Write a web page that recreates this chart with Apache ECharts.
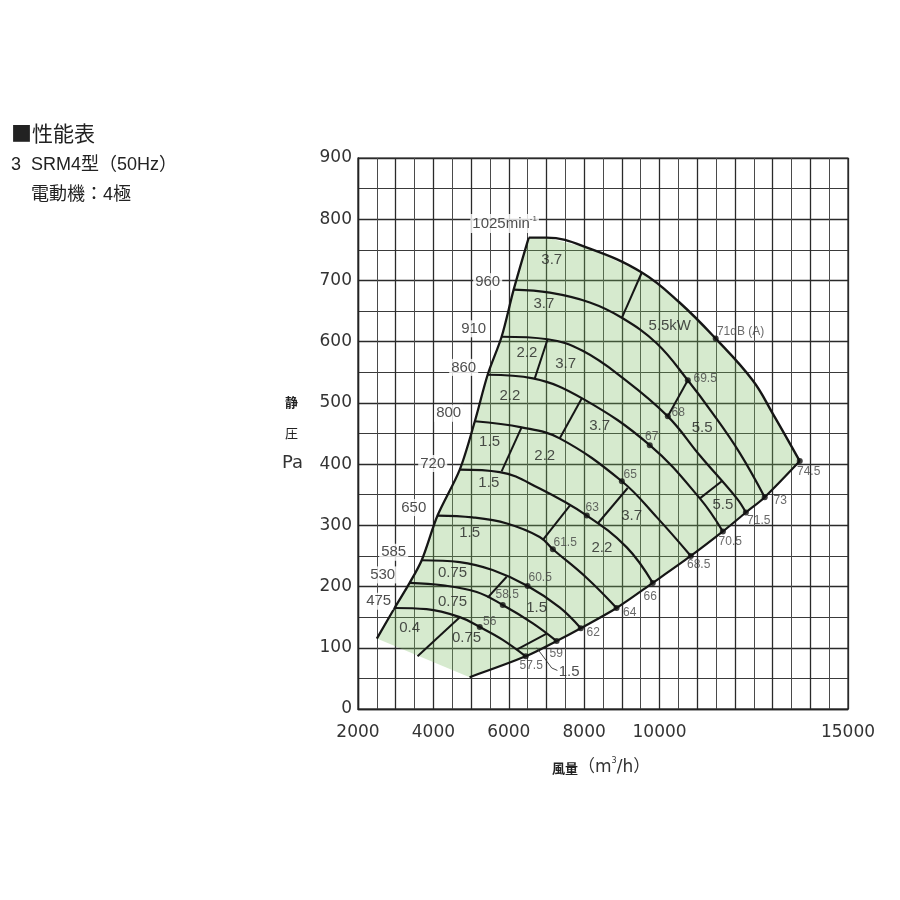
<!DOCTYPE html>
<html><head><meta charset="utf-8">
<script src="https://cdn.jsdelivr.net/npm/echarts@6/dist/echarts.min.js"></script>
<style>html,body{margin:0;padding:0;background:#fff}#c{width:900px;height:900px}</style>
</head><body><div id="c"></div>
<script>
// ---- data ----
const xTickLabels = [2000, 4000, 6000, 8000, 10000, 15000];
const yTickLabels = [0, 100, 200, 300, 400, 500, 600, 700, 800, 900];

const surgeLine = [[2500,115],[2970,165],[3370,206],[3690,243],[4110,316],[4700,391],[5100,470],[5440,546],[5810,608],[6130,685],[6530,770]];
const curve1025 = [[6530,770],[7000,770],[8150,752],[9530,713],[10530,664],[11490,605],[12470,537],[13000,483],[13720,405]];
const curve960 = [[6130,685],[7090,680],[8150,664],[9000,639],[9930,597],[10750,537],[11410,483],[12130,418],[12790,346]];
const curve910 = [[5810,608],[7030,604],[7960,585],[9020,541],[10220,478],[11070,414],[12050,344],[12290,321]];
const curve860 = [[5440,546],[6640,540],[7960,507],[9740,431],[11070,344],[11680,290]];
const curve800 = [[5100,470],[6340,460],[7350,442],[9000,372],[9930,313],[10830,250]];
const curve720 = [[4700,391],[5760,387],[6820,360],[8070,316],[9130,264],[9820,206]];
const curve650 = [[4110,316],[5040,313],[5950,303],[6820,281],[7170,261],[8070,214],[8860,165]];
const curve585 = [[3690,243],[4700,240],[5570,227],[6500,201],[7350,166],[7910,132]];
const curve530 = [[3370,206],[4250,202],[5150,191],[5840,170],[6640,140],[7270,111]];
const curve475 = [[2970,165],[3820,163],[4700,150],[5230,134],[5840,113],[6450,86]];
const boundaryLine = [[4960,52],[6450,86],[7270,111],[7910,132],[8860,165],[9820,206],[10830,250],[11680,290],[12290,321],[12790,346],[13720,405]];

const powerDividers = [
  [[9530,713],[9000,639]],
  [[10750,537],[10220,478]],
  [[7030,604],[6690,540]],
  [[11650,372],[11070,344]],
  [[7935,507],[7350,442]],
  [[6340,460],[5810,388]],
  [[9155,361],[8360,303]],
  [[7620,332],[6900,276]],
  [[5945,216],[5440,182]],
  [[7006,123],[6210,97]],
  [[4700,150],[3580,86]]
];
const leaderLine = [[6740,100],[7140,67],[7290,63]];

const noiseDots = [[11490,605],[10750,537],[10220,478],[9740,431],[9000,372],[8070,316],[7170,261],[6500,201],[5840,170],[5230,134]];
const endDots = [[6450,86],[7270,111],[7910,132],[8860,165],[9820,206],[10830,250],[11680,290],[12290,321],[12790,346],[13720,405]];

const speedLabels = [
  [5890,793,'1025'],[5441,698,'960'],[5069,621,'910'],[4804,558,'860'],[4406,483,'800'],
  [3982,401,'720'],[3478,329,'650'],[2947,256,'585'],[2655,219,'530'],[2549,176,'475']
];
const kwLabels = [
  [7140,734,'3.7'],[10270,626,'5.5kW'],[6930,662,'3.7'],[11130,460,'5.5'],
  [6480,582,'2.2'],[7510,563,'3.7'],[11680,333,'5.5'],[6030,512,'2.2'],[8410,463,'3.7'],
  [5490,437,'1.5'],[6955,414,'2.2'],[9260,316,'3.7'],[5470,369,'1.5'],[8470,264,'2.2'],
  [4960,287,'1.5'],[4510,223,'0.75'],[6740,166,'1.5'],[4510,175,'0.75'],[3370,132,'0.4'],
  [4880,116,'0.75'],[7603,61,'1.5']
];
const dbLabels = [
  [12150,616,'71dB (A)'],[11210,540,'69.5'],[10495,484,'68'],[9792,445,'67'],[9222,382,'65'],
  [8213,329,'63'],[7497,271,'61.5'],[6834,215,'60.5'],[5958,186,'58.5'],[5494,142,'56'],
  [6595,70,'57.5'],[7258,91,'59'],[8240,124,'62'],[9208,158,'64'],[9752,184,'66'],
  [11039,235,'68.5'],[11875,274,'70.5'],[12631,308,'71.5'],[13201,341,'73'],[13957,387,'74.5']
];

// ---- chart ----
const areaOutline = surgeLine.concat(curve1025.slice(1), boundaryLine.slice(0, -1).reverse());
const ink = '#161616';
function curve(data, w) {
  return {type:'line', data, smooth:0.4, symbol:'none', silent:true, z:4,
    lineStyle:{color:ink, width:w || 2.2}};
}
const series = [
  {type:'custom', silent:true, z:1, data:[[2000,0]],
    renderItem:(params, api) => {
      if (params.dataIndex !== 0) return;
      return {type:'polygon', shape:{points:areaOutline.map(p => api.coord(p))},
        style:{fill:'rgba(118,185,92,0.30)', stroke:null}};
    }},
  {type:'line', data:surgeLine, smooth:0.3, symbol:'none', silent:true, z:4, lineStyle:{color:ink, width:2.3}},
  curve(curve1025, 2.4), curve(curve960), curve(curve910), curve(curve860), curve(curve800),
  curve(curve720), curve(curve650), curve(curve585), curve(curve530), curve(curve475),
  {type:'line', data:boundaryLine, smooth:0.3, symbol:'none', silent:true, z:4, lineStyle:{color:ink, width:2.2}}
];
powerDividers.forEach(seg => series.push({type:'line', data:seg, symbol:'none', silent:true, z:4, lineStyle:{color:ink, width:2}}));
series.push({type:'line', data:leaderLine, symbol:'none', silent:true, z:4, lineStyle:{color:'#333', width:0.9}});
series.push({type:'scatter', data:noiseDots.concat(endDots), symbol:'circle', symbolSize:6, silent:true, z:5,
  itemStyle:{color:'#111'}});
series.push({type:'scatter', data:speedLabels, symbolSize:1, silent:true, z:6, itemStyle:{color:'rgba(0,0,0,0)'},
  label:{show:true, position:'inside', color:'#222', fontFamily:'Liberation Sans', fontSize:15,
    backgroundColor:'#fff', padding:[1,2],
    formatter:p => p.data[2] === '1025' ? '{n|1025min}{s|-1}' : p.data[2],
    rich:{n:{fontFamily:'Liberation Sans', fontSize:15, color:'#222', lineHeight:17},
          s:{fontFamily:'Liberation Sans', fontSize:8, color:'#222', verticalAlign:'top', lineHeight:8}}}});
series.push({type:'scatter', data:kwLabels, symbolSize:1, silent:true, z:6, itemStyle:{color:'rgba(0,0,0,0)'},
  label:{show:true, position:'inside', color:'#222', fontFamily:'Liberation Sans', fontSize:15,
    formatter:p => p.data[2]}});
series.push({type:'scatter', data:dbLabels, symbolSize:1, silent:true, z:6, itemStyle:{color:'rgba(0,0,0,0)'},
  label:{show:true, position:'inside', color:'#444', fontFamily:'Liberation Sans', fontSize:12,
    formatter:p => p.data[2]}});

const chart = echarts.init(document.getElementById('c'), null, {renderer:'canvas'});
chart.setOption({
  animation:false,
  backgroundColor:'#fff',
  grid:{left:358, right:52, top:158, bottom:191, outerBoundsMode:'none', containLabel:false,
    show:true, borderColor:'#222', borderWidth:1.2, backgroundColor:'transparent'},
  xAxis:{type:'value', min:2000, max:15000, interval:1000,
    axisLine:{show:true, lineStyle:{color:'#222', width:1.4}},
    axisTick:{show:false},
    minorTick:{show:false, splitNumber:2},
    splitLine:{show:true, lineStyle:{color:'#2a2a2a', width:1.3}},
    minorSplitLine:{show:true, lineStyle:{color:'#4a4a4a', width:1}},
    axisLabel:{show:true, interval:0, margin:15, color:'#333', fontFamily:'DejaVu Sans', fontSize:17,
      showMinLabel:true, showMaxLabel:true,
      formatter:v => xTickLabels.includes(v) ? String(v) : ''}},
  yAxis:{type:'value', min:0, max:900, interval:100,
    axisLine:{show:true, lineStyle:{color:'#222', width:1.4}},
    axisTick:{show:false},
    minorTick:{show:false, splitNumber:2},
    splitLine:{show:true, lineStyle:{color:'#2a2a2a', width:1.3}},
    minorSplitLine:{show:true, lineStyle:{color:'#3a3a3a', width:1}},
    axisLabel:{show:true, margin:6, color:'#333', fontFamily:'DejaVu Sans', fontSize:17,
      showMinLabel:true, showMaxLabel:true,
      formatter:v => yTickLabels.includes(v) ? String(v) : ''}},
  graphic:[
    {type:'text', left:11, top:123, style:{text:'■性能表', font:'21px "Noto Sans CJK JP"', fill:'#222'}},
    {type:'text', left:11, top:156, style:{text:'3  SRM4型（50Hz）', font:'18px "Liberation Sans","Noto Sans CJK JP"', fill:'#222'}},
    {type:'text', left:31, top:186, style:{text:'電動機：4極', font:'18px "Liberation Sans","Noto Sans CJK JP"', fill:'#222'}},
    {type:'text', left:285, top:396, style:{text:'静', font:'bold 13px "Noto Sans CJK JP"', fill:'#222'}},
    {type:'text', left:285, top:427, style:{text:'圧', font:'13px "Noto Sans CJK JP"', fill:'#222'}},
    {type:'text', left:282, top:454, style:{text:'Pa', font:'18px "DejaVu Sans"', fill:'#333'}},
    {type:'text', left:552, top:757, style:{
      text:'{a|風量}{b|（m}{c|3}{b|/h）}',
      rich:{a:{font:'bold 13px "Noto Sans CJK JP"', fill:'#222', lineHeight:22, verticalAlign:'middle'},
            b:{font:'17px "DejaVu Sans","Noto Sans CJK JP"', fill:'#333', lineHeight:22, verticalAlign:'middle'},
            c:{font:'8px "DejaVu Sans"', fill:'#333', verticalAlign:'top', lineHeight:8}}}}
  ],
  series
});
</script>
</body></html>
